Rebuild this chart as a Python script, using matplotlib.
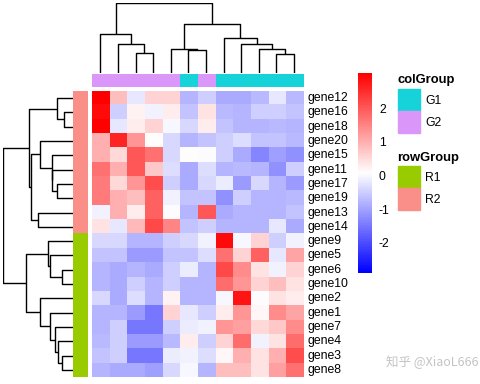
import numpy as np
import matplotlib
matplotlib.use('Agg')
import matplotlib.pyplot as plt
from matplotlib.colors import LinearSegmentedColormap, ListedColormap, Normalize

plt.rcParams['font.family'] = ['Liberation Sans', 'DejaVu Sans']
plt.rcParams['axes.unicode_minus'] = False

genes = ['gene12', 'gene16', 'gene18', 'gene20', 'gene15', 'gene11', 'gene17',
         'gene19', 'gene13', 'gene14', 'gene9', 'gene5', 'gene6', 'gene10',
         'gene2', 'gene1', 'gene7', 'gene4', 'gene3', 'gene8']

# row-scaled expression, rows/cols already in clustered order
values = [
    [3.0, 0.8, -0.2, 0.6, 0.6, -0.8, -0.5, -0.9, -0.9, -0.7, -0.2, -0.7],
    [2.9, -0.5, 0.2, -0.1, 0.3, -0.6, 0.4, -0.7, -0.8, -0.5, -0.5, -0.6],
    [3.0, -0.2, 0.3, 0.6, 0.0, -0.4, 0.3, -0.6, -0.8, -0.8, -0.7, -0.8],
    [1.0, 2.6, 1.3, 0.1, -0.4, -0.8, -0.6, -0.5, -0.3, -0.6, -0.6, -0.7],
    [1.0, 0.5, 2.0, 1.7, -0.4, 0.1, 0.05, -0.5, -0.9, -1.3, -1.0, -1.2],
    [1.7, 1.0, 2.0, 0.7, -0.3, -0.9, -0.3, -0.8, -0.7, -0.8, -1.2, -0.5],
    [1.6, 0.5, 1.3, 2.1, -0.5, -0.9, -0.4, -0.15, -1.1, -0.4, -0.8, -1.1],
    [1.6, 1.0, 0.8, 1.9, -0.05, -0.6, -0.6, -1.2, -0.5, -0.8, -0.8, -0.7],
    [-0.1, 1.0, 0.3, 1.9, 0.05, -0.8, 2.0, -0.9, -0.8, -0.8, -0.8, -0.6],
    [0.4, -0.2, 0.9, 2.2, 1.5, -0.6, -0.5, -0.8, -0.8, -0.8, -0.2, -0.9],
    [-0.4, -0.4, -0.8, -0.8, -0.5, -0.4, -0.1, 2.9, 0.0, 0.6, -0.5, -0.05],
    [-0.6, -0.6, -1.1, -1.1, -0.6, -0.6, -0.3, 1.7, 0.6, 1.9, -0.2, 1.1],
    [-0.8, -0.9, -0.8, -0.9, -0.5, -0.15, -0.8, 2.2, 1.4, 0.4, -0.1, 0.6],
    [-0.8, -0.9, -0.5, -0.8, -0.5, -0.8, -0.8, 1.8, 1.3, 0.6, 0.8, 0.4],
    [-0.4, -0.9, -0.3, -0.8, 0.2, -0.8, -0.8, 0.0, 2.8, 0.05, 0.4, 0.3],
    [-0.8, -0.8, -1.1, -1.5, 0.6, -0.2, -0.5, 0.3, 1.3, 0.15, 1.4, 1.1],
    [-0.8, -0.5, -1.5, -1.5, -0.5, -0.15, -0.1, 1.3, 1.2, 0.5, 0.7, 1.4],
    [-0.7, -0.5, -1.1, -1.1, -0.7, 0.3, -0.5, 0.6, 1.8, -0.05, 0.4, 1.8],
    [-0.6, -0.5, -1.5, -1.5, -0.15, -0.05, -0.3, 0.15, 1.0, 0.4, 1.0, 2.1],
    [-0.8, -0.9, -0.9, -1.0, -0.4, 0.0, -0.8, 0.8, 0.8, 0.4, 1.2, 1.7],
]

col_groups = ['G2', 'G2', 'G2', 'G2', 'G2', 'G1', 'G2', 'G1', 'G1', 'G1', 'G1', 'G1']
row_groups = ['R2'] * 10 + ['R1'] * 10
col_colors = {'G1': '#16d3d9', 'G2': '#da96f8'}
row_colors = {'R1': '#99cc00', 'R2': '#fa8f8a'}

# merges: [left, right, height], leaves numbered in display order
col_merges = [[2, 3, 20], [1, 12, 29], [0, 13, 39], [5, 6, 23], [4, 15, 24],
              [10, 11, 19], [9, 17, 24], [8, 18, 29], [7, 19, 35],
              [16, 20, 49], [14, 21, 70]]
row_merges = [[1, 2, 9], [0, 20, 16.7], [6, 7, 16.7], [5, 22, 21], [4, 23, 21.7],
              [3, 24, 33.3], [8, 9, 35], [25, 26, 42.7], [21, 27, 44.3],
              [12, 13, 11.7], [11, 29, 23.3], [10, 30, 25.7], [18, 19, 11.7],
              [17, 32, 15], [16, 33, 18.3], [15, 34, 23.3], [14, 35, 33.3],
              [31, 36, 47.3], [28, 37, 70]]


def dendro_segments(merges, n):
    pos = {i: float(i) for i in range(n)}
    hgt = {i: 0.0 for i in range(n)}
    segs = []
    for k, (a, b, h) in enumerate(merges):
        segs.append(([pos[a], pos[a], pos[b], pos[b]], [hgt[a], h, h, hgt[b]]))
        pos[n + k] = (pos[a] + pos[b]) / 2
        hgt[n + k] = h
    return segs


W, H = 480, 384
fig = plt.figure(figsize=(W / 100, H / 100), dpi=100)


def px_axes(x0, y0, x1, y1):
    ax = fig.add_axes([x0 / W, 1 - y1 / H, (x1 - x0) / W, (y1 - y0) / H])
    ax.set_axis_off()
    return ax


hx0, hx1, hy0, hy1 = 91.5, 302.7, 90.7, 377.3
mat = np.array(values)
nr, nc = mat.shape

cmap = LinearSegmentedColormap.from_list('bwr2', ['blue', 'white', 'red'], N=100)
norm = Normalize(vmin=-2.9, vmax=3.05)

ax = px_axes(hx0, hy0, hx1, hy1)
ax.imshow(mat, cmap=cmap, norm=norm, aspect='auto', interpolation='nearest')
for i, g in enumerate(genes):
    ax.text(nc - 0.5 + 0.26, i, g, va='center', ha='left', fontsize=8.8)

# column annotation
ax_ca = px_axes(hx0, 74, hx1, 86.7)
cg = ['G1', 'G2']
ax_ca.imshow([[cg.index(g) for g in col_groups]], aspect='auto', interpolation='nearest',
             cmap=ListedColormap([col_colors[g] for g in cg]), vmin=0, vmax=1)

# row annotation
ax_ra = px_axes(73.3, hy0, 87.7, hy1)
rg = ['R1', 'R2']
ax_ra.imshow([[rg.index(g)] for g in row_groups], aspect='auto', interpolation='nearest',
             cmap=ListedColormap([row_colors[g] for g in rg]), vmin=0, vmax=1)

# column dendrogram
ax_cd = px_axes(hx0, 3.3, hx1, 73.3)
for xs, ys in dendro_segments(col_merges, nc):
    ax_cd.plot(xs, ys, color='black', lw=1.0, solid_capstyle='butt')
ax_cd.set_xlim(-0.5, nc - 0.5)
ax_cd.set_ylim(0, 70)

# row dendrogram
ax_rd = px_axes(3.3, hy0, 73.3, hy1)
for ys, xs in dendro_segments(row_merges, nr):
    ax_rd.plot(xs, ys, color='black', lw=1.0, solid_capstyle='butt')
ax_rd.set_xlim(70, 0)
ax_rd.set_ylim(nr - 0.5, -0.5)

# colour bar
cax = fig.add_axes([358 / W, 1 - 273 / H, 14 / W, 200 / H])
sm = plt.cm.ScalarMappable(norm=norm, cmap=cmap)
cb = fig.colorbar(sm, cax=cax, ticks=[-2, -1, 0, 1, 2])
cb.outline.set_visible(False)
cax.tick_params(length=0, labelsize=8.8, pad=5)

# annotation legends
fig.text(397 / W, 1 - 80.5 / H, 'colGroup', fontsize=9.4, fontweight='bold', va='center')
for k, g in enumerate(cg):
    y0 = 89 + 22 * k
    fig.patches.append(plt.Rectangle((398 / W, 1 - (y0 + 22) / H), 22 / W, 22 / H,
                                     transform=fig.transFigure, color=col_colors[g]))
    fig.text(425 / W, 1 - (y0 + 12) / H, g, fontsize=8.8, va='center')

fig.text(397 / W, 1 - 158 / H, 'rowGroup', fontsize=9.4, fontweight='bold', va='center')
for k, g in enumerate(rg):
    y0 = 166 + 22 * k
    fig.patches.append(plt.Rectangle((398 / W, 1 - (y0 + 22) / H), 22 / W, 22 / H,
                                     transform=fig.transFigure, color=row_colors[g]))
    fig.text(425 / W, 1 - (y0 + 12) / H, g, fontsize=8.8, va='center')

# watermark
fig.text(386 / W, 1 - 362 / H, '知乎 @XiaoL666', fontsize=9, color='#c4c4c4', va='center',
         family=['Noto Sans CJK SC', 'DejaVu Sans'])

fig.savefig('out.png', dpi=100)
